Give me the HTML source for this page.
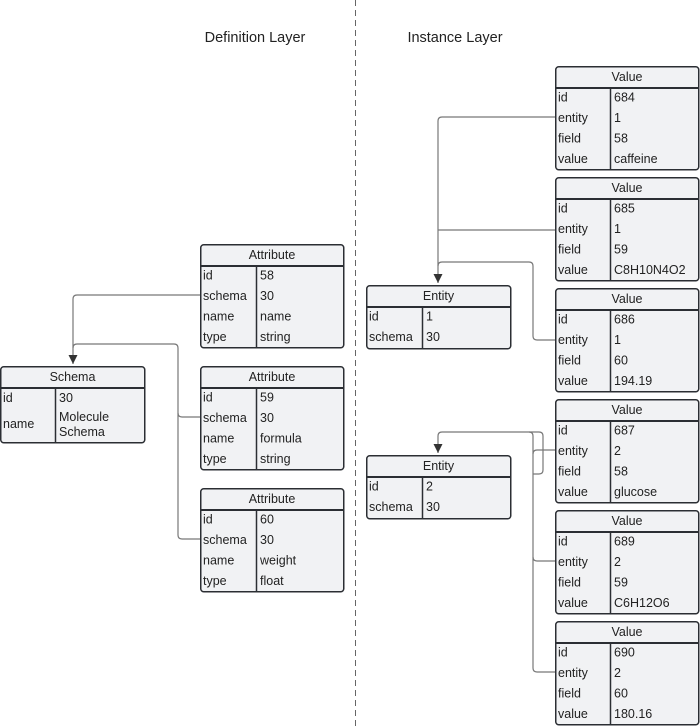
<!DOCTYPE html>
<html><head><meta charset="utf-8"><style>
html,body{margin:0;padding:0;background:#fff;}
svg{display:block;font-family:"Liberation Sans",sans-serif;}
</style></head><body>
<svg width="700" height="726" viewBox="0 0 700 726" xmlns="http://www.w3.org/2000/svg">
<defs>
<marker id="ar" markerWidth="10" markerHeight="10" refX="9" refY="5" orient="auto" markerUnits="userSpaceOnUse">
<path d="M0,0.5 L9,5 L0,9.5 Z" fill="#333"/>
</marker>
</defs>
<line x1="355.5" y1="0" x2="355.5" y2="726" stroke="#666" stroke-width="1" stroke-dasharray="6,4"/>
<text x="255" y="42" font-size="14.5" text-anchor="middle" fill="#222">Definition Layer</text>
<text x="455" y="42" font-size="14.5" text-anchor="middle" fill="#222">Instance Layer</text>

<g fill="none" stroke="#777" stroke-width="1.2">
<path d="M200,295 H77 Q73,295 73,299 V364" marker-end="url(#ar)"/>
<path d="M200,417 H182 Q178,417 178,413 V348 Q178,344 174,344 H77 Q73,344 73,348"/>
<path d="M200,539 H182 Q178,539 178,535 V413"/>
<path d="M555,117 H442 Q438,117 438,121 V283" marker-end="url(#ar)"/>
<path d="M555,230 H438"/>
<path d="M555,340 H537 Q533,340 533,336 V266 Q533,262 529,262 H442 Q438,262 438,266"/>
<path d="M555,672 H537 Q533,672 533,668 V436 Q533,432 529,432 H442 Q438,432 438,436 V453" marker-end="url(#ar)"/>
<path d="M555,561 H537 Q533,561 533,557"/>
<path d="M555,450 H537 Q533,450 533,454"/>
<path d="M529,432 H539 Q543,432 543,436 V470 Q543,474 539,474 H533"/>
</g>

<g font-size="12.5" fill="#222">
<rect x="0.75" y="366.75" width="144" height="76" rx="3" fill="#f1f2f4" stroke="#2b2e33" stroke-width="1.5"/>
<line x1="1" y1="388" x2="145" y2="388" stroke="#2b2e33" stroke-width="2"/>
<line x1="55.5" y1="389" x2="55.5" y2="443" stroke="#2b2e33" stroke-width="1.5"/>
<text x="72.5" y="381" text-anchor="middle">Schema</text>
<text x="3" y="402">id</text><text x="59" y="402">30</text>
<text x="3" y="428">name</text><text x="59" y="421">Molecule</text><text x="59" y="436">Schema</text>

<g transform="translate(200,244)">
<rect x="0.75" y="0.75" width="143" height="103" rx="3" fill="#f1f2f4" stroke="#2b2e33" stroke-width="1.5"/>
<line x1="1" y1="22" x2="144" y2="22" stroke="#2b2e33" stroke-width="2"/>
<line x1="56.5" y1="23" x2="56.5" y2="104" stroke="#2b2e33" stroke-width="1.5"/>
<text x="72" y="15" text-anchor="middle">Attribute</text>
<text x="3" y="35.5">id</text><text x="60" y="35.5">58</text>
<text x="3" y="56">schema</text><text x="60" y="56">30</text>
<text x="3" y="76.5">name</text><text x="60" y="76.5">name</text>
<text x="3" y="97">type</text><text x="60" y="97">string</text>
</g>
<g transform="translate(200,366)">
<rect x="0.75" y="0.75" width="143" height="103" rx="3" fill="#f1f2f4" stroke="#2b2e33" stroke-width="1.5"/>
<line x1="1" y1="22" x2="144" y2="22" stroke="#2b2e33" stroke-width="2"/>
<line x1="56.5" y1="23" x2="56.5" y2="104" stroke="#2b2e33" stroke-width="1.5"/>
<text x="72" y="15" text-anchor="middle">Attribute</text>
<text x="3" y="35.5">id</text><text x="60" y="35.5">59</text>
<text x="3" y="56">schema</text><text x="60" y="56">30</text>
<text x="3" y="76.5">name</text><text x="60" y="76.5">formula</text>
<text x="3" y="97">type</text><text x="60" y="97">string</text>
</g>
<g transform="translate(200,488)">
<rect x="0.75" y="0.75" width="143" height="103" rx="3" fill="#f1f2f4" stroke="#2b2e33" stroke-width="1.5"/>
<line x1="1" y1="22" x2="144" y2="22" stroke="#2b2e33" stroke-width="2"/>
<line x1="56.5" y1="23" x2="56.5" y2="104" stroke="#2b2e33" stroke-width="1.5"/>
<text x="72" y="15" text-anchor="middle">Attribute</text>
<text x="3" y="35.5">id</text><text x="60" y="35.5">60</text>
<text x="3" y="56">schema</text><text x="60" y="56">30</text>
<text x="3" y="76.5">name</text><text x="60" y="76.5">weight</text>
<text x="3" y="97">type</text><text x="60" y="97">float</text>
</g>

<g transform="translate(366,285)">
<rect x="0.75" y="0.75" width="144" height="63" rx="3" fill="#f1f2f4" stroke="#2b2e33" stroke-width="1.5"/>
<line x1="1" y1="22" x2="145" y2="22" stroke="#2b2e33" stroke-width="2"/>
<line x1="56.5" y1="23" x2="56.5" y2="64" stroke="#2b2e33" stroke-width="1.5"/>
<text x="72.5" y="15" text-anchor="middle">Entity</text>
<text x="3" y="35.5">id</text><text x="60" y="35.5">1</text>
<text x="3" y="56">schema</text><text x="60" y="56">30</text>
</g>
<g transform="translate(366,455)">
<rect x="0.75" y="0.75" width="144" height="63" rx="3" fill="#f1f2f4" stroke="#2b2e33" stroke-width="1.5"/>
<line x1="1" y1="22" x2="145" y2="22" stroke="#2b2e33" stroke-width="2"/>
<line x1="56.5" y1="23" x2="56.5" y2="64" stroke="#2b2e33" stroke-width="1.5"/>
<text x="72.5" y="15" text-anchor="middle">Entity</text>
<text x="3" y="35.5">id</text><text x="60" y="35.5">2</text>
<text x="3" y="56">schema</text><text x="60" y="56">30</text>
</g>

<g transform="translate(555,66)">
<rect x="0.75" y="0.75" width="143" height="103" rx="3" fill="#f1f2f4" stroke="#2b2e33" stroke-width="1.5"/>
<line x1="1" y1="22" x2="144" y2="22" stroke="#2b2e33" stroke-width="2"/>
<line x1="55.5" y1="23" x2="55.5" y2="104" stroke="#2b2e33" stroke-width="1.5"/>
<text x="72" y="15" text-anchor="middle">Value</text>
<text x="3" y="35.5">id</text><text x="59" y="35.5">684</text>
<text x="3" y="56">entity</text><text x="59" y="56">1</text>
<text x="3" y="76.5">field</text><text x="59" y="76.5">58</text>
<text x="3" y="97">value</text><text x="59" y="97">caffeine</text>
</g>
<g transform="translate(555,177)">
<rect x="0.75" y="0.75" width="143" height="103" rx="3" fill="#f1f2f4" stroke="#2b2e33" stroke-width="1.5"/>
<line x1="1" y1="22" x2="144" y2="22" stroke="#2b2e33" stroke-width="2"/>
<line x1="55.5" y1="23" x2="55.5" y2="104" stroke="#2b2e33" stroke-width="1.5"/>
<text x="72" y="15" text-anchor="middle">Value</text>
<text x="3" y="35.5">id</text><text x="59" y="35.5">685</text>
<text x="3" y="56">entity</text><text x="59" y="56">1</text>
<text x="3" y="76.5">field</text><text x="59" y="76.5">59</text>
<text x="3" y="97">value</text><text x="59" y="97">C8H10N4O2</text>
</g>
<g transform="translate(555,288)">
<rect x="0.75" y="0.75" width="143" height="103" rx="3" fill="#f1f2f4" stroke="#2b2e33" stroke-width="1.5"/>
<line x1="1" y1="22" x2="144" y2="22" stroke="#2b2e33" stroke-width="2"/>
<line x1="55.5" y1="23" x2="55.5" y2="104" stroke="#2b2e33" stroke-width="1.5"/>
<text x="72" y="15" text-anchor="middle">Value</text>
<text x="3" y="35.5">id</text><text x="59" y="35.5">686</text>
<text x="3" y="56">entity</text><text x="59" y="56">1</text>
<text x="3" y="76.5">field</text><text x="59" y="76.5">60</text>
<text x="3" y="97">value</text><text x="59" y="97">194.19</text>
</g>
<g transform="translate(555,399)">
<rect x="0.75" y="0.75" width="143" height="103" rx="3" fill="#f1f2f4" stroke="#2b2e33" stroke-width="1.5"/>
<line x1="1" y1="22" x2="144" y2="22" stroke="#2b2e33" stroke-width="2"/>
<line x1="55.5" y1="23" x2="55.5" y2="104" stroke="#2b2e33" stroke-width="1.5"/>
<text x="72" y="15" text-anchor="middle">Value</text>
<text x="3" y="35.5">id</text><text x="59" y="35.5">687</text>
<text x="3" y="56">entity</text><text x="59" y="56">2</text>
<text x="3" y="76.5">field</text><text x="59" y="76.5">58</text>
<text x="3" y="97">value</text><text x="59" y="97">glucose</text>
</g>
<g transform="translate(555,510)">
<rect x="0.75" y="0.75" width="143" height="103" rx="3" fill="#f1f2f4" stroke="#2b2e33" stroke-width="1.5"/>
<line x1="1" y1="22" x2="144" y2="22" stroke="#2b2e33" stroke-width="2"/>
<line x1="55.5" y1="23" x2="55.5" y2="104" stroke="#2b2e33" stroke-width="1.5"/>
<text x="72" y="15" text-anchor="middle">Value</text>
<text x="3" y="35.5">id</text><text x="59" y="35.5">689</text>
<text x="3" y="56">entity</text><text x="59" y="56">2</text>
<text x="3" y="76.5">field</text><text x="59" y="76.5">59</text>
<text x="3" y="97">value</text><text x="59" y="97">C6H12O6</text>
</g>
<g transform="translate(555,621)">
<rect x="0.75" y="0.75" width="143" height="103" rx="3" fill="#f1f2f4" stroke="#2b2e33" stroke-width="1.5"/>
<line x1="1" y1="22" x2="144" y2="22" stroke="#2b2e33" stroke-width="2"/>
<line x1="55.5" y1="23" x2="55.5" y2="104" stroke="#2b2e33" stroke-width="1.5"/>
<text x="72" y="15" text-anchor="middle">Value</text>
<text x="3" y="35.5">id</text><text x="59" y="35.5">690</text>
<text x="3" y="56">entity</text><text x="59" y="56">2</text>
<text x="3" y="76.5">field</text><text x="59" y="76.5">60</text>
<text x="3" y="97">value</text><text x="59" y="97">180.16</text>
</g>
</g>
</svg>
</body></html>
